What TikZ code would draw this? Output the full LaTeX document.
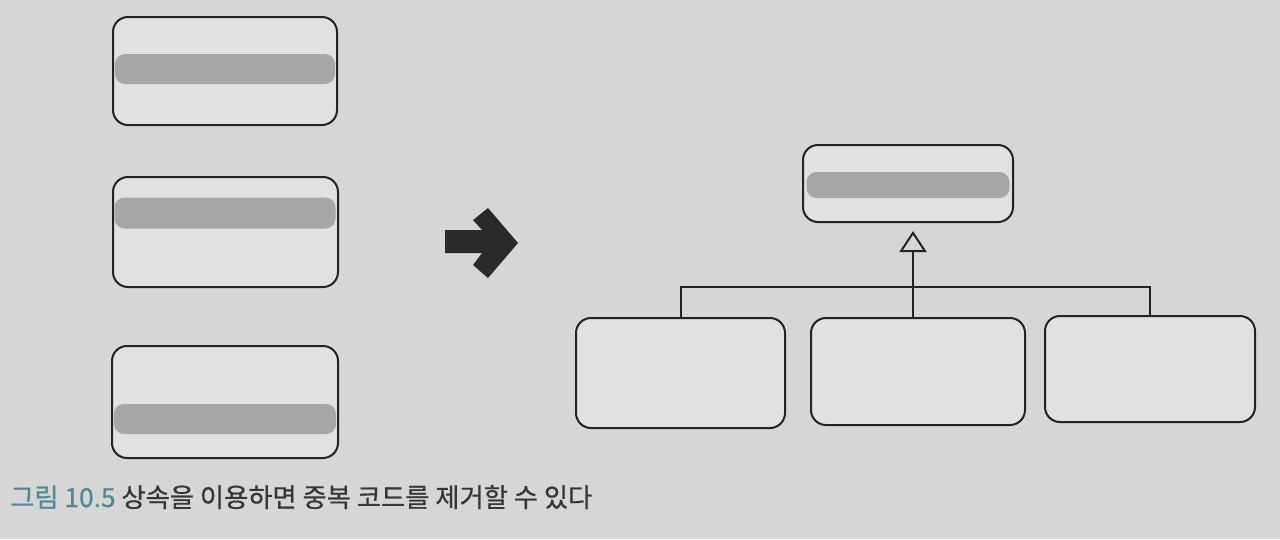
\documentclass[tikz,border=0pt]{standalone}
\usepackage{fontspec}
\newfontfamily\kr[FakeBold=0.6]{Noto Sans CJK KR}
\usetikzlibrary{arrows.meta}
\definecolor{pagebg}{HTML}{D6D6D6}
\definecolor{boxfill}{HTML}{E1E1E1}
\definecolor{barfill}{HTML}{A6A6A6}
\definecolor{edge}{HTML}{232323}
\definecolor{teal}{HTML}{4F8896}
\definecolor{captxt}{HTML}{363636}
\definecolor{arrowfill}{HTML}{2A2A2A}
\tikzset{
  cls/.style={draw=edge, line width=2pt, fill=boxfill, rounded corners=15pt, minimum width=#1, inner sep=0pt},
  bar/.style={fill=barfill, rounded corners=10pt, minimum width=#1, inner sep=0pt},
  link/.style={draw=edge, line width=2pt},
  inh/.style={link, -{Triangle[open, length=21pt, width=27pt, line width=2pt]}, shorten >=8pt},
}
\begin{document}
\begin{tikzpicture}[x=1pt,y=-1pt]
\useasboundingbox (0,0) rectangle (1280,539);
\fill[pagebg] (0,0) rectangle (1280,539);
% left: three classes with duplicated code
\node[cls=224pt, minimum height=108pt] (a1) at (225,71) {};
\node[bar=220pt, minimum height=30pt] (b1) at (225,69) {};
\node[cls=225pt, minimum height=110pt] (a2) at (225.5,232) {};
\node[bar=221pt, minimum height=31pt] (b2) at (225,213) {};
\node[cls=226pt, minimum height=112pt] (a3) at (225,402) {};
\node[bar=222pt, minimum height=30pt] (b3) at (225,419) {};
% big arrow
\fill[arrowfill] (445,230) -- (482,230) -- (473,220) -- (488,208) -- (518,243)
  -- (488,278) -- (473,265) -- (482,253) -- (445,253) -- cycle;
% right: hierarchy
\node[cls=210pt, minimum height=77pt] (p) at (908,183.5) {};
\node[bar=203pt, minimum height=26pt] (pb) at (908,185) {};
\node[cls=209pt, minimum height=110pt] (c1) at (680.5,373) {};
\node[cls=214pt, minimum height=107pt] (c2) at (918,371.5) {};
\node[cls=210pt, minimum height=106pt] (c3) at (1150,369) {};
\coordinate (j) at (913,287);
\draw[link] (c1.north) |- (c3.north |- j) -- (c3.north);
\draw[link] (j |- c2.north) -- (j);
\draw[inh] (j) -- (j |- p.south);
% caption
\node[anchor=base west, inner sep=0pt, font=\kr\fontsize{26.3}{30}\selectfont, text=captxt] (cap) at (10,507)
  {\textcolor{teal}{그림 10.5}\ 상속을 이용하면 중복 코드를 제거할 수 있다};
\end{tikzpicture}
\end{document}
